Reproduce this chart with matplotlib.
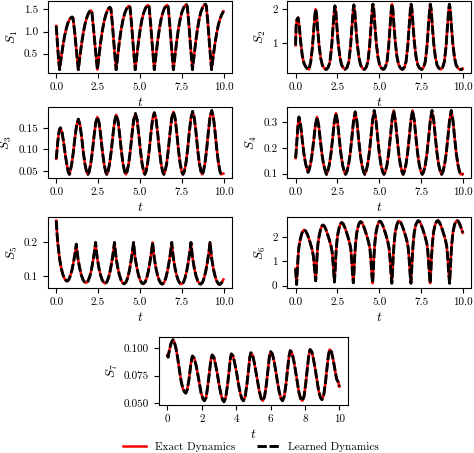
import matplotlib
matplotlib.use('Agg')
from matplotlib import pyplot as plt

plt.rcParams['font.family'] = 'serif'
plt.rcParams['font.serif'] = ['cmr10', 'DejaVu Serif']
plt.rcParams['mathtext.fontset'] = 'cm'
plt.rcParams['axes.unicode_minus'] = False

# values
t1 = [0.0, 0.05, 0.1, 0.15, 0.2,
      0.3, 0.4, 0.5, 0.6, 0.7, 0.8, 0.9, 0.95, 1.0, 1.1, 1.2, 1.32,
      1.42, 1.52, 1.62, 1.72, 1.82, 1.92, 2.0, 2.07, 2.13, 2.22, 2.34, 2.46,
      2.56, 2.66, 2.76, 2.86, 2.96, 3.06, 3.14, 3.21, 3.27, 3.36, 3.47, 3.58,
      3.68, 3.78, 3.88, 3.98, 4.08, 4.18, 4.27, 4.35, 4.41, 4.5, 4.61, 4.72,
      4.82, 4.92, 5.02, 5.12, 5.22, 5.32, 5.41, 5.48, 5.55, 5.64, 5.75, 5.86,
      5.96, 6.06, 6.16, 6.26, 6.36, 6.46, 6.55, 6.62, 6.69, 6.78, 6.89, 7.0,
      7.1, 7.2, 7.3, 7.4, 7.5, 7.6, 7.69, 7.77, 7.83, 7.92, 8.03, 8.14,
      8.24, 8.34, 8.44, 8.54, 8.64, 8.74, 8.83, 8.91, 8.97, 9.06, 9.17, 9.28,
      9.38, 9.48, 9.58, 9.68, 9.78, 9.88, 9.99]
s1 = [1.13, 0.85, 0.58, 0.33, 0.14,
      0.42, 0.68, 0.9, 1.07, 1.2, 1.28, 1.32, 1.33, 1.31, 1.0, 0.6, 0.14,
      0.45, 0.74, 0.98, 1.17, 1.31, 1.41, 1.46, 1.48, 1.44, 1.1, 0.6, 0.14,
      0.47, 0.78, 1.03, 1.23, 1.38, 1.48, 1.53, 1.55, 1.51, 1.15, 0.62, 0.14,
      0.47, 0.79, 1.05, 1.25, 1.4, 1.5, 1.56, 1.58, 1.54, 1.17, 0.63, 0.14,
      0.47, 0.79, 1.06, 1.27, 1.42, 1.52, 1.58, 1.6, 1.56, 1.18, 0.64, 0.14,
      0.47, 0.79, 1.06, 1.27, 1.42, 1.52, 1.58, 1.6, 1.56, 1.18, 0.64, 0.14,
      0.47, 0.79, 1.06, 1.27, 1.43, 1.53, 1.59, 1.61, 1.57, 1.19, 0.64, 0.14,
      0.47, 0.79, 1.06, 1.28, 1.44, 1.54, 1.6, 1.62, 1.58, 1.2, 0.65, 0.14,
      0.44, 0.72, 0.95, 1.14, 1.28, 1.38, 1.46]

t2 = [0.0, 0.03, 0.08, 0.15, 0.22, 0.3, 0.4, 0.5, 0.6, 0.7, 0.8,
      0.9, 1.0, 1.1, 1.16, 1.2, 1.25, 1.32, 1.4, 1.5, 1.6, 1.7, 1.8,
      1.85, 1.95, 2.05, 2.15, 2.25, 2.31, 2.35, 2.4, 2.47, 2.55, 2.65, 2.75, 2.85, 2.95,
      3.08, 3.18, 3.28, 3.38, 3.44, 3.48, 3.53, 3.6, 3.68, 3.78, 3.88, 3.98, 4.08,
      4.12, 4.22, 4.32, 4.42, 4.52, 4.58, 4.62, 4.67, 4.74, 4.82, 4.92, 5.02, 5.12, 5.22,
      5.26, 5.36, 5.46, 5.56, 5.66, 5.72, 5.76, 5.81, 5.88, 5.96, 6.06, 6.16, 6.26, 6.36,
      6.4, 6.5, 6.6, 6.7, 6.8, 6.86, 6.9, 6.95, 7.02, 7.1, 7.2, 7.3, 7.4, 7.5,
      7.55, 7.65, 7.75, 7.85, 7.95, 8.01, 8.05, 8.1, 8.17, 8.25, 8.35, 8.45, 8.55, 8.65,
      8.69, 8.79, 8.89, 8.99, 9.09, 9.15, 9.19, 9.24, 9.31, 9.39, 9.49, 9.59, 9.69, 9.79,
      9.89, 9.99]
s2 = [0.93, 1.5, 1.7, 1.75, 1.5, 1.05, 0.62, 0.4, 0.3, 0.24, 0.22,
      0.43, 0.85, 1.49, 1.86, 2.0, 1.86, 1.4, 0.94, 0.55, 0.34, 0.26, 0.22,
      0.22, 0.28, 0.44, 0.88, 1.56, 1.95, 2.1, 1.95, 1.47, 0.97, 0.57, 0.35, 0.26, 0.22,
      0.28, 0.45, 0.89, 1.59, 1.98, 2.13, 1.98, 1.49, 0.99, 0.58, 0.35, 0.26, 0.22,
      0.22, 0.28, 0.45, 0.9, 1.6, 2.0, 2.15, 2.0, 1.5, 1.0, 0.58, 0.35, 0.26, 0.22,
      0.22, 0.28, 0.45, 0.9, 1.6, 2.0, 2.15, 2.0, 1.5, 1.0, 0.58, 0.35, 0.26, 0.22,
      0.22, 0.28, 0.45, 0.9, 1.6, 2.0, 2.15, 2.0, 1.5, 1.0, 0.58, 0.35, 0.26, 0.22,
      0.22, 0.28, 0.45, 0.9, 1.6, 2.0, 2.15, 2.0, 1.5, 1.0, 0.58, 0.35, 0.26, 0.22,
      0.22, 0.28, 0.45, 0.9, 1.6, 2.0, 2.15, 2.0, 1.5, 1.0, 0.58, 0.35, 0.26, 0.22,
      0.21, 0.24]

t3 = [0.0, 0.05, 0.1, 0.15, 0.2, 0.25,
      0.35, 0.45, 0.55, 0.65, 0.72, 0.79,
      0.82, 0.92, 1.02, 1.12, 1.22, 1.32,
      1.42, 1.52, 1.62, 1.72, 1.82, 1.89,
      1.96, 2.06, 2.16, 2.26, 2.36, 2.46,
      2.56, 2.66, 2.76, 2.86, 2.96, 3.025,
      3.09, 3.19, 3.29, 3.39, 3.49, 3.59,
      3.69, 3.79, 3.89, 3.99, 4.09, 4.16,
      4.23, 4.33, 4.43, 4.53, 4.63, 4.73,
      4.83, 4.93, 5.03, 5.13, 5.23, 5.295,
      5.36, 5.46, 5.56, 5.66, 5.76, 5.86,
      5.96, 6.06, 6.16, 6.26, 6.36, 6.43,
      6.5, 6.6, 6.7, 6.8, 6.9, 7.0,
      7.1, 7.2, 7.3, 7.4, 7.5, 7.575,
      7.65, 7.75, 7.85, 7.95, 8.05, 8.15,
      8.25, 8.35, 8.45, 8.55, 8.65, 8.72,
      8.79, 8.89, 8.99, 9.09, 9.19, 9.29,
      9.39, 9.49, 9.59, 9.69, 9.79, 9.86, 9.99]
s3 = [0.078, 0.1, 0.12, 0.137, 0.147, 0.15,
      0.139, 0.114, 0.085, 0.061, 0.047, 0.042,
      0.047, 0.065, 0.093, 0.128, 0.157, 0.17,
      0.157, 0.128, 0.093, 0.065, 0.047, 0.042,
      0.047, 0.066, 0.095, 0.131, 0.162, 0.175,
      0.162, 0.131, 0.095, 0.066, 0.047, 0.042,
      0.048, 0.067, 0.097, 0.134, 0.166, 0.18,
      0.166, 0.134, 0.097, 0.067, 0.048, 0.042,
      0.048, 0.067, 0.098, 0.136, 0.169, 0.183,
      0.169, 0.136, 0.098, 0.067, 0.048, 0.042,
      0.048, 0.068, 0.099, 0.138, 0.171, 0.185,
      0.171, 0.138, 0.099, 0.068, 0.048, 0.042,
      0.048, 0.068, 0.1, 0.139, 0.173, 0.187,
      0.173, 0.139, 0.1, 0.068, 0.048, 0.042,
      0.048, 0.068, 0.1, 0.14, 0.173, 0.188,
      0.173, 0.14, 0.1, 0.068, 0.048, 0.042,
      0.048, 0.069, 0.101, 0.141, 0.175, 0.19,
      0.175, 0.141, 0.101, 0.069, 0.048, 0.042, 0.044]

t4 = [0.0, 0.05, 0.1, 0.15, 0.2,
      0.3, 0.4, 0.5, 0.6, 0.7, 0.74,
      0.78, 0.88, 0.98, 1.08, 1.18, 1.28,
      1.38, 1.48, 1.58, 1.68, 1.78, 1.845,
      1.91, 2.01, 2.11, 2.21, 2.31, 2.41,
      2.51, 2.61, 2.71, 2.81, 2.91, 2.985,
      3.06, 3.16, 3.26, 3.36, 3.46, 3.56,
      3.66, 3.76, 3.86, 3.96, 4.06, 4.13,
      4.2, 4.3, 4.4, 4.5, 4.6, 4.7,
      4.8, 4.9, 5.0, 5.1, 5.2, 5.28,
      5.36, 5.46, 5.56, 5.66, 5.76, 5.86,
      5.96, 6.06, 6.16, 6.26, 6.36, 6.425,
      6.49, 6.59, 6.69, 6.79, 6.89, 6.99,
      7.09, 7.19, 7.29, 7.39, 7.49, 7.57,
      7.65, 7.75, 7.85, 7.95, 8.05, 8.15,
      8.25, 8.35, 8.45, 8.55, 8.65, 8.725,
      8.8, 8.9, 9.0, 9.1, 9.2, 9.3,
      9.4, 9.5, 9.6, 9.7, 9.8, 9.87, 9.99]
s4 = [0.16, 0.2, 0.25, 0.295, 0.32,
      0.288, 0.23, 0.176, 0.137, 0.114, 0.105,
      0.109, 0.133, 0.173, 0.228, 0.287, 0.32,
      0.287, 0.228, 0.173, 0.133, 0.109, 0.097,
      0.107, 0.133, 0.176, 0.235, 0.299, 0.335,
      0.299, 0.235, 0.176, 0.133, 0.107, 0.097,
      0.107, 0.133, 0.177, 0.238, 0.304, 0.34,
      0.304, 0.238, 0.177, 0.133, 0.107, 0.097,
      0.107, 0.134, 0.179, 0.241, 0.308, 0.345,
      0.308, 0.241, 0.179, 0.134, 0.107, 0.097,
      0.107, 0.134, 0.179, 0.241, 0.308, 0.345,
      0.308, 0.241, 0.179, 0.134, 0.107, 0.097,
      0.107, 0.134, 0.179, 0.241, 0.308, 0.345,
      0.308, 0.241, 0.179, 0.134, 0.107, 0.097,
      0.107, 0.134, 0.179, 0.241, 0.308, 0.345,
      0.308, 0.241, 0.179, 0.134, 0.107, 0.097,
      0.107, 0.134, 0.179, 0.241, 0.308, 0.345,
      0.308, 0.241, 0.179, 0.134, 0.107, 0.097, 0.098]

t5 = [0.0, 0.05, 0.1, 0.2, 0.3, 0.4, 0.5, 0.6, 0.65,
      0.75, 0.85, 0.95, 1.05, 1.13, 1.2,
      1.25, 1.3, 1.4, 1.5, 1.6, 1.7, 1.79,
      1.9, 2.0, 2.1, 2.2, 2.28, 2.35,
      2.4, 2.45, 2.55, 2.65, 2.75, 2.85, 2.93,
      3.03, 3.13, 3.23, 3.33, 3.41, 3.48,
      3.53, 3.58, 3.68, 3.78, 3.88, 3.98, 4.06,
      4.17, 4.27, 4.37, 4.47, 4.55, 4.62,
      4.67, 4.72, 4.82, 4.92, 5.02, 5.12, 5.2,
      5.31, 5.41, 5.51, 5.61, 5.69, 5.76,
      5.81, 5.86, 5.96, 6.06, 6.16, 6.26, 6.34,
      6.45, 6.55, 6.65, 6.75, 6.83, 6.9,
      6.95, 7.0, 7.1, 7.2, 7.3, 7.4, 7.48,
      7.6, 7.7, 7.8, 7.9, 7.98, 8.05,
      8.1, 8.15, 8.25, 8.35, 8.45, 8.55, 8.63,
      8.74, 8.84, 8.94, 9.04, 9.12, 9.19,
      9.24, 9.29, 9.39, 9.49, 9.59, 9.69, 9.77, 9.88, 9.99]
s5 = [0.265, 0.225, 0.195, 0.152, 0.123, 0.104, 0.092, 0.086, 0.085,
      0.089, 0.102, 0.12, 0.146, 0.17, 0.195,
      0.172, 0.151, 0.124, 0.103, 0.089, 0.082, 0.08,
      0.085, 0.098, 0.118, 0.146, 0.172, 0.2,
      0.176, 0.154, 0.124, 0.102, 0.088, 0.08, 0.078,
      0.083, 0.096, 0.117, 0.145, 0.172, 0.2,
      0.175, 0.153, 0.124, 0.102, 0.087, 0.079, 0.077,
      0.082, 0.095, 0.116, 0.145, 0.172, 0.2,
      0.175, 0.153, 0.124, 0.102, 0.087, 0.079, 0.077,
      0.082, 0.095, 0.116, 0.145, 0.172, 0.2,
      0.175, 0.153, 0.123, 0.101, 0.086, 0.078, 0.076,
      0.081, 0.095, 0.116, 0.144, 0.171, 0.2,
      0.175, 0.153, 0.123, 0.101, 0.086, 0.078, 0.076,
      0.081, 0.095, 0.116, 0.144, 0.171, 0.2,
      0.175, 0.153, 0.123, 0.101, 0.086, 0.078, 0.076,
      0.081, 0.095, 0.116, 0.144, 0.171, 0.2,
      0.175, 0.152, 0.122, 0.1, 0.085, 0.077, 0.075, 0.08, 0.09]

t6 = [0.0, 0.06, 0.1, 0.14, 0.19, 0.26, 0.36, 0.44, 0.51,
      0.6, 0.7, 0.8, 0.9, 1.0, 1.06, 1.11, 1.16, 1.2,
      1.24, 1.28, 1.33, 1.4, 1.5, 1.58, 1.64, 1.72, 1.82, 1.92, 2.02, 2.12, 2.18, 2.23, 2.28, 2.32,
      2.36, 2.4, 2.45, 2.52, 2.62, 2.7, 2.76, 2.84, 2.94, 3.04, 3.14, 3.24, 3.3, 3.35, 3.4, 3.45,
      3.49, 3.53, 3.58, 3.65, 3.75, 3.83, 3.89, 3.97, 4.07, 4.17, 4.27, 4.37, 4.44, 4.5, 4.55, 4.6,
      4.64, 4.68, 4.73, 4.8, 4.9, 4.98, 5.04, 5.12, 5.22, 5.32, 5.42, 5.52, 5.59, 5.65, 5.7, 5.75,
      5.79, 5.83, 5.88, 5.95, 6.05, 6.13, 6.19, 6.27, 6.37, 6.47, 6.57, 6.67, 6.73, 6.79, 6.84, 6.89,
      6.93, 6.97, 7.02, 7.09, 7.19, 7.28, 7.34, 7.42, 7.52, 7.62, 7.72, 7.82, 7.88, 7.94, 7.99, 8.04,
      8.08, 8.12, 8.17, 8.24, 8.34, 8.43, 8.5, 8.58, 8.68, 8.78, 8.88, 8.98, 9.04, 9.1, 9.15, 9.2,
      9.24, 9.28, 9.33, 9.4, 9.5, 9.59, 9.66, 9.74, 9.84, 9.94, 9.99]
s6 = [0.7, 0.05, 0.55, 1.1, 1.55, 1.85, 2.13, 2.26, 2.3,
      2.25, 2.12, 1.93, 1.7, 1.45, 1.22, 0.85, 0.45, 0.2,
      0.65, 1.2, 1.7, 2.02, 2.34, 2.47, 2.5, 2.45, 2.3, 2.1, 1.88, 1.62, 1.4, 1.0, 0.5, 0.15,
      0.6, 1.2, 1.7, 2.12, 2.44, 2.57, 2.6, 2.55, 2.4, 2.2, 1.98, 1.72, 1.5, 1.05, 0.5, 0.12,
      0.58, 1.18, 1.7, 2.16, 2.48, 2.61, 2.64, 2.59, 2.44, 2.24, 2.02, 1.76, 1.52, 1.05, 0.5, 0.1,
      0.57, 1.17, 1.7, 2.18, 2.5, 2.63, 2.66, 2.61, 2.46, 2.26, 2.04, 1.78, 1.53, 1.05, 0.5, 0.1,
      0.57, 1.17, 1.7, 2.19, 2.51, 2.64, 2.67, 2.62, 2.47, 2.27, 2.05, 1.79, 1.55, 1.05, 0.5, 0.1,
      0.57, 1.17, 1.7, 2.2, 2.52, 2.65, 2.68, 2.63, 2.48, 2.28, 2.06, 1.8, 1.56, 1.05, 0.5, 0.1,
      0.57, 1.17, 1.7, 2.2, 2.52, 2.65, 2.68, 2.63, 2.48, 2.28, 2.06, 1.8, 1.56, 1.05, 0.5, 0.1,
      0.57, 1.17, 1.7, 2.2, 2.52, 2.65, 2.68, 2.63, 2.48, 2.28, 2.18]

t7 = [0.0, 0.04, 0.1, 0.2, 0.28, 0.33,
      0.4, 0.5, 0.6, 0.7, 0.8, 0.9, 1.0, 1.07,
      1.15, 1.25, 1.35, 1.42, 1.46,
      1.56, 1.66, 1.76, 1.86, 1.96, 2.06, 2.15,
      2.25, 2.35, 2.45, 2.53, 2.6,
      2.7, 2.8, 2.9, 3.0, 3.1, 3.2, 3.29,
      3.39, 3.49, 3.59, 3.66, 3.72,
      3.82, 3.92, 4.02, 4.12, 4.22, 4.32, 4.42,
      4.52, 4.62, 4.72, 4.79, 4.85,
      4.95, 5.05, 5.15, 5.25, 5.35, 5.45, 5.55,
      5.65, 5.75, 5.85, 5.93, 6.0,
      6.1, 6.2, 6.3, 6.4, 6.5, 6.6, 6.69,
      6.79, 6.89, 6.99, 7.07, 7.14,
      7.24, 7.34, 7.44, 7.54, 7.64, 7.74, 7.84,
      7.94, 8.04, 8.14, 8.22, 8.29,
      8.39, 8.49, 8.59, 8.69, 8.79, 8.89, 8.98,
      9.08, 9.18, 9.28, 9.36, 9.43,
      9.53, 9.63, 9.73, 9.83, 9.93, 9.99]
s7 = [0.094, 0.092, 0.097, 0.104, 0.107, 0.108,
      0.106, 0.1, 0.091, 0.08, 0.07, 0.063, 0.06, 0.059,
      0.062, 0.071, 0.084, 0.091, 0.093,
      0.091, 0.085, 0.077, 0.068, 0.059, 0.054, 0.052,
      0.055, 0.066, 0.079, 0.09, 0.094,
      0.092, 0.085, 0.077, 0.067, 0.059, 0.053, 0.051,
      0.055, 0.066, 0.08, 0.091, 0.095,
      0.093, 0.086, 0.078, 0.068, 0.06, 0.054, 0.052,
      0.056, 0.067, 0.081, 0.092, 0.096,
      0.094, 0.087, 0.078, 0.069, 0.06, 0.054, 0.052,
      0.056, 0.067, 0.081, 0.093, 0.097,
      0.095, 0.088, 0.079, 0.069, 0.06, 0.054, 0.052,
      0.056, 0.067, 0.082, 0.093, 0.098,
      0.096, 0.089, 0.08, 0.07, 0.06, 0.054, 0.052,
      0.056, 0.068, 0.083, 0.094, 0.099,
      0.097, 0.09, 0.081, 0.071, 0.061, 0.055, 0.053,
      0.057, 0.068, 0.083, 0.094, 0.099,
      0.097, 0.09, 0.081, 0.072, 0.069, 0.065]

yticks = [[0.5, 1.0, 1.5], [1, 2], [0.05, 0.10, 0.15], [0.1, 0.2, 0.3],
          [0.1, 0.2], [0, 1, 2], [0.050, 0.075, 0.100]]
ytick_labels = [['0.5', '1.0', '1.5'], ['1', '2'], ['0.05', '0.10', '0.15'],
                ['0.1', '0.2', '0.3'], ['0.1', '0.2'], ['0', '1', '2'],
                ['0.050', '0.075', '0.100']]
xticks_top = [0, 2.5, 5, 7.5, 10]
xtick_labels_top = ['0.0', '2.5', '5.0', '7.5', '10.0']
xticks_bottom = [0, 2, 4, 6, 8, 10]
xtick_labels_bottom = ['0', '2', '4', '6', '8', '10']

ts = [t1, t2, t3, t4, t5, t6, t7]
ss = [s1, s2, s3, s4, s5, s6, s7]

fig = plt.figure(figsize=(4.74, 4.53), dpi=100)

# left, bottom, width, height in figure fractions
boxes = [[0.101, 0.839, 0.388, 0.159], [0.606, 0.839, 0.388, 0.159],
         [0.101, 0.608, 0.388, 0.155], [0.606, 0.608, 0.388, 0.155],
         [0.101, 0.365, 0.388, 0.155], [0.606, 0.365, 0.388, 0.155],
         [0.335, 0.106, 0.399, 0.151]]

for i in range(7):
    ax = fig.add_axes(boxes[i])
    ax.plot(ts[i], ss[i], color='red', lw=1.8, label='Exact Dynamics')
    ax.plot(ts[i], ss[i], color='black', lw=2.1, dashes=(3.2, 0.9),
            label='Learned Dynamics')
    ax.set_yticks(yticks[i], ytick_labels[i])
    if i < 6:
        ax.set_xticks(xticks_top, xtick_labels_top)
    else:
        ax.set_xticks(xticks_bottom, xtick_labels_bottom)
    ax.tick_params(labelsize=8)
    ax.set_xlabel('$t$', fontsize=9.5, labelpad=3)
    ax.set_ylabel('$S_%d$' % (i + 1), fontsize=9.5, labelpad=3)

handles, labels = ax.get_legend_handles_labels()
fig.legend(handles, labels, loc='center', bbox_to_anchor=(0.53, 0.014),
           ncol=2, frameon=False, fontsize=8)

fig.savefig('out.png', dpi=100)
